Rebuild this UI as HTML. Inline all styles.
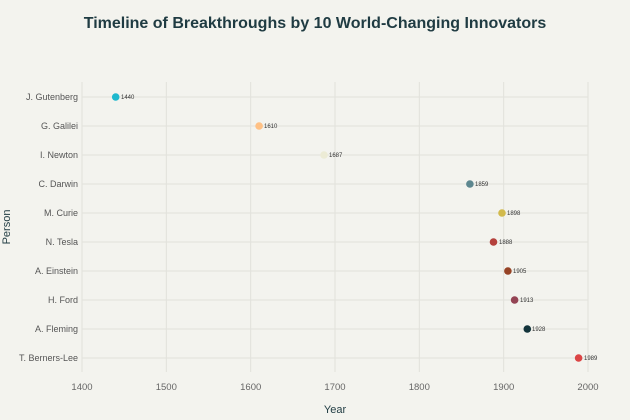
<!DOCTYPE html>
<html><head><meta charset="utf-8"><style>
body{margin:0;background:#f3f3ee;}
svg{display:block;font-family:"Liberation Sans",sans-serif;}
</style></head><body>
<svg width="630" height="420" viewBox="0 0 630 420">
<rect width="630" height="420" fill="#f3f3ee"/>
<text x="315" y="28" text-anchor="middle" font-size="16" font-weight="bold" fill="#1f3b42">Timeline of Breakthroughs by 10 World-Changing Innovators</text>
<g stroke="#e1e1db" stroke-width="1">
<line x1="82" y1="82" x2="82" y2="372"/>
<line x1="166.3" y1="82" x2="166.3" y2="372"/>
<line x1="250.7" y1="82" x2="250.7" y2="372"/>
<line x1="335" y1="82" x2="335" y2="372"/>
<line x1="419.3" y1="82" x2="419.3" y2="372"/>
<line x1="503.7" y1="82" x2="503.7" y2="372"/>
<line x1="588" y1="82" x2="588" y2="372"/>
<line x1="82" y1="97" x2="588" y2="97"/>
<line x1="82" y1="126" x2="588" y2="126"/>
<line x1="82" y1="155" x2="588" y2="155"/>
<line x1="82" y1="184" x2="588" y2="184"/>
<line x1="82" y1="213" x2="588" y2="213"/>
<line x1="82" y1="242" x2="588" y2="242"/>
<line x1="82" y1="271" x2="588" y2="271"/>
<line x1="82" y1="300" x2="588" y2="300"/>
<line x1="82" y1="329" x2="588" y2="329"/>
<line x1="82" y1="358" x2="588" y2="358"/>
</g>
<g font-size="9" fill="#555" text-anchor="end">
<text x="78" y="100">J. Gutenberg</text>
<text x="78" y="129">G. Galilei</text>
<text x="78" y="158">I. Newton</text>
<text x="78" y="187">C. Darwin</text>
<text x="78" y="216">M. Curie</text>
<text x="78" y="245">N. Tesla</text>
<text x="78" y="274">A. Einstein</text>
<text x="78" y="303">H. Ford</text>
<text x="78" y="332">A. Fleming</text>
<text x="78" y="361">T. Berners-Lee</text>
</g>
<g font-size="9.5" fill="#666" text-anchor="middle">
<text x="82" y="390">1400</text>
<text x="166.3" y="390">1500</text>
<text x="250.7" y="390">1600</text>
<text x="335" y="390">1700</text>
<text x="419.3" y="390">1800</text>
<text x="503.7" y="390">1900</text>
<text x="588" y="390">2000</text>
</g>
<text x="335" y="413" text-anchor="middle" font-size="11" fill="#1f3b42">Year</text>
<text transform="translate(10,227) rotate(-90)" text-anchor="middle" font-size="11" fill="#1f3b42">Person</text>
<g>
<circle cx="115.7" cy="97" r="3.8" fill="#1FB8CD"/>
<circle cx="259.1" cy="126" r="3.8" fill="#FFC185"/>
<circle cx="324" cy="155" r="3.8" fill="#ECEBD5"/>
<circle cx="469.9" cy="184" r="3.8" fill="#5D878F"/>
<circle cx="502" cy="213" r="3.8" fill="#D2BA4C"/>
<circle cx="493.5" cy="242" r="3.8" fill="#B4413C"/>
<circle cx="507.9" cy="271" r="3.8" fill="#964325"/>
<circle cx="514.6" cy="300" r="3.8" fill="#944454"/>
<circle cx="527.3" cy="329" r="3.8" fill="#13343B"/>
<circle cx="578.6" cy="358" r="3.8" fill="#DB4545"/>
</g>
<g font-size="6" fill="#333">
<text x="121" y="99">1440</text>
<text x="264" y="128">1610</text>
<text x="329" y="157">1687</text>
<text x="475" y="186">1859</text>
<text x="507" y="215">1898</text>
<text x="499" y="244">1888</text>
<text x="513" y="273">1905</text>
<text x="520" y="302">1913</text>
<text x="532" y="331">1928</text>
<text x="584" y="360">1989</text>
</g>
</svg>
</body></html>
